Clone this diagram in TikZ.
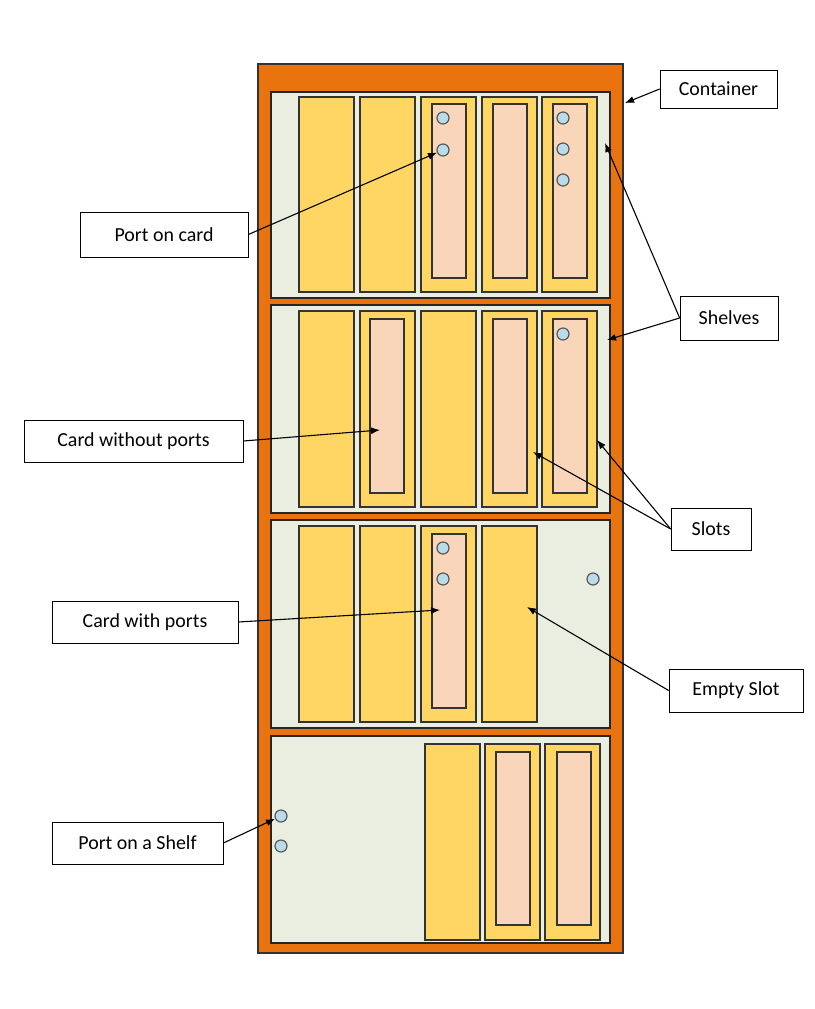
\documentclass[tikz,border=0pt]{standalone}
\usepackage{fontspec}
\setmainfont{Carlito}
\usetikzlibrary{arrows.meta}
\begin{document}
\begin{tikzpicture}[x=1bp,y=-1bp,
  cont/.style={draw=black!80,fill=orng,line width=1.2pt},
  shelf/.style={draw=black!85,fill=shelfc,line width=1.8pt},
  slot/.style={draw=black!80,fill=slotc,line width=1.5pt},
  card/.style={draw=black!80,fill=cardc,line width=1.5pt},
  port/.style={circle,draw=gray!70!black,fill=portc,line width=1.2pt,minimum size=12bp,inner sep=0pt},
  lbl/.style={draw=black,fill=white,line width=0.7pt,font=\fontsize{20}{23}\selectfont,inner sep=0pt},
  arr/.style={-{Latex[length=9bp,width=7bp]},line width=1.1pt}]
\definecolor{orng}{HTML}{E8730F}
\definecolor{shelfc}{HTML}{E9EEE0}
\definecolor{slotc}{HTML}{FFD563}
\definecolor{cardc}{HTML}{F9D5B9}
\definecolor{portc}{HTML}{BADCEA}
\useasboundingbox (0,0) rectangle (815,1009);
\fill[white] (0,0) rectangle (815,1009);
\draw[cont] (258,64) rectangle (623,953);
% shelves
\draw[shelf] (271,92) rectangle (610,298);
\draw[shelf] (271,305) rectangle (610,513);
\draw[shelf] (271,520) rectangle (610,728);
\draw[shelf] (271,736) rectangle (610,943);
% shelf 1
\foreach \x in {299,360,421,482,542} \draw[slot] (\x,97) rectangle ++(55,195);
\foreach \x in {432,493,553} \draw[card] (\x,104) rectangle ++(34,174);
\node[port] (p1a) at (443,118) {};
\node[port] (p1b) at (443,150) {};
\node[port] (p1c) at (563,118) {};
\node[port] (p1d) at (563,149) {};
\node[port] (p1e) at (563,180) {};
% shelf 2
\foreach \x in {299,360,421,482,542} \draw[slot] (\x,311) rectangle ++(55,196);
\foreach \x in {370,493,553} \draw[card] (\x,319) rectangle ++(34,174);
\node[port] (p2a) at (563,334) {};
% shelf 3
\foreach \x in {299,360,421,482} \draw[slot] (\x,526) rectangle ++(55,196);
\draw[card] (432,534) rectangle ++(34,174);
\node[port] (p3a) at (443,548) {};
\node[port] (p3b) at (443,579) {};
\node[port] (p3c) at (593,579) {};
% shelf 4
\foreach \x in {425,485,545} \draw[slot] (\x,744) rectangle ++(55,196);
\foreach \x in {496,557} \draw[card] (\x,752) rectangle ++(34,173);
\node[port] (p4a) at (281,816) {};
\node[port] (p4b) at (281,846) {};
% anchors
\coordinate (cC) at (625,103);
\coordinate (sh1) at (605,143);
\coordinate (sh2) at (607,340);
\coordinate (cw) at (380,430);
\coordinate (sl1) at (533,452);
\coordinate (sl2) at (597,440);
\coordinate (cwp) at (440,610);
\coordinate (es) at (527,607);
% labels
\node[lbl,minimum width=117bp,minimum height=38bp] (Lc) at (718.5,89) {Container};
\node[lbl,minimum width=168bp,minimum height=45bp] (Lp) at (164,234.5) {Port on card};
\node[lbl,minimum width=98bp,minimum height=44bp] (Ls) at (729,318) {Shelves};
\node[lbl,minimum width=219bp,minimum height=42bp] (Lw) at (133.5,441) {Card without ports};
\node[lbl,minimum width=80bp,minimum height=42bp] (Lsl) at (711,529) {Slots};
\node[lbl,minimum width=186bp,minimum height=42bp] (Lcp) at (145,622) {Card with ports};
\node[lbl,minimum width=134bp,minimum height=43bp] (Le) at (736,690.5) {Empty Slot};
\node[lbl,minimum width=171bp,minimum height=42bp] (Lps) at (137.5,843) {Port on a Shelf};
% arrows
\draw[arr] (Lc.west) -- (cC);
\draw[arr] (Lp.east) -- (p1b);
\draw[arr] (Ls.west) -- (sh1);
\draw[arr] (Ls.west) -- (sh2);
\draw[arr] (Lw.east) -- (cw);
\draw[arr] (Lsl.west) -- (sl1);
\draw[arr] (Lsl.west) -- (sl2);
\draw[arr] (Lcp.east) -- (cwp);
\draw[arr] (Le.west) -- (es);
\draw[arr] (Lps.east) -- (p4a);
\end{tikzpicture}
\end{document}
